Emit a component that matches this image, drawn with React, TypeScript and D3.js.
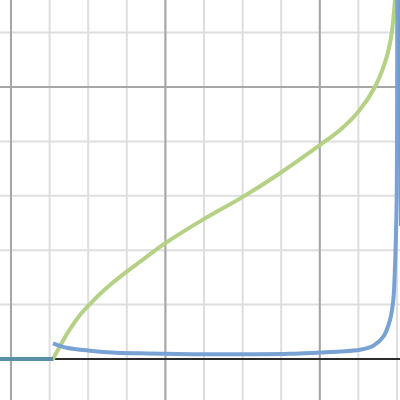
import React from "react";
import * as d3 from "d3";

const W = 400;
const H = 400;

// grid definitions (data units)
const xMinorTicks = [2, 2.5, 3, 3.5, 4, 4.5, 5, 5.5, 6, 6.5, 7];
const xMajorTicks = [2, 4, 6];
const yMinorTicks = [0.2, 0.4, 0.6, 0.8, 1.0, 1.2];
const yMajorTicks = [1.0];
const xAxisValue = [0];

const xDomain: [number, number] = [1.8575, 7.0389];
const yDomain: [number, number] = [-0.1507, 1.3199];

// green curve
const greenX = [2.544, 2.635, 2.764, 2.894, 3.023, 3.153, 3.282, 3.499, 3.649, 3.995, 4.513, 5.009, 5.484, 6.003, 6.262, 6.499, 6.715, 6.867, 6.931, 6.974, 6.994];
const greenY = [0, 0.048, 0.11, 0.162, 0.202, 0.239, 0.272, 0.321, 0.353, 0.425, 0.517, 0.597, 0.683, 0.787, 0.842, 0.909, 1.001, 1.111, 1.197, 1.32, 1.393];

// blue curve: flat part, main branch, right branch
const blueFlatX = [1.8, 2.544];
const blueFlatY = [0, 0];
const blueX = [2.544, 2.7215, 3.023, 3.369, 3.671, 3.969, 4.617, 5.096, 5.614, 6.003, 6.262, 6.521, 6.693, 6.823, 6.909, 6.952, 6.974, 6.987, 6.996, 7.0, 7.004];
const blueY = [0.0577, 0.0415, 0.0305, 0.0232, 0.021, 0.019, 0.0173, 0.0173, 0.019, 0.024, 0.0276, 0.034, 0.049, 0.082, 0.143, 0.217, 0.339, 0.463, 0.585, 0.768, 1.36];
const blueRightX = [7.0285, 7.0454];
const blueRightY = [1.357, 0.489];

export default function App() {
  const x = d3.scaleLinear().domain(xDomain).range([0, W]);
  const y = d3.scaleLinear().domain(yDomain).range([H, 0]);

  const line = d3
    .line<[number, number]>()
    .x((d) => x(d[0]))
    .y((d) => y(d[1]))
    .curve(d3.curveCatmullRom.alpha(0.5));
  const straight = d3
    .line<[number, number]>()
    .x((d) => x(d[0]))
    .y((d) => y(d[1]));

  const zip = (a: number[], b: number[]) => a.map((v, i) => [v, b[i]] as [number, number]);

  return (
    <svg
      width={W}
      height={H}
      style={{ position: "fixed", top: 0, left: 0, background: "#fff" }}
    >
      <rect width={W} height={H} fill="#fff" />
      <g>
        {xMinorTicks.map((t) => (
          <line key={"xm" + t} x1={x(t)} x2={x(t)} y1={0} y2={H} stroke="#dedede" strokeWidth={2} />
        ))}
        {yMinorTicks.map((t) => (
          <line key={"ym" + t} x1={0} x2={W} y1={y(t)} y2={y(t)} stroke="#dedede" strokeWidth={2} />
        ))}
        {xMajorTicks.map((t) => (
          <line key={"xM" + t} x1={x(t)} x2={x(t)} y1={0} y2={H} stroke="#a6a6a6" strokeWidth={2} />
        ))}
        {yMajorTicks.map((t) => (
          <line key={"yM" + t} x1={0} x2={W} y1={y(t)} y2={y(t)} stroke="#a6a6a6" strokeWidth={2} />
        ))}
        {xAxisValue.map((t) => (
          <line key={"ax" + t} x1={0} x2={W} y1={y(t)} y2={y(t)} stroke="#2b2b2b" strokeWidth={2} />
        ))}
      </g>
      <path d={line(zip(greenX, greenY)) || ""} fill="none" stroke="#b5d185" strokeWidth={4} strokeLinecap="round" />
      <path d={line(zip(blueX, blueY)) || ""} fill="none" stroke="#78a2d4" strokeWidth={4} strokeLinecap="butt" strokeLinejoin="round" />
      <path d={straight(zip(blueRightX, blueRightY)) || ""} fill="none" stroke="#6f9bd0" strokeWidth={3} />
      <path d={straight(zip(blueFlatX, blueFlatY)) || ""} fill="none" stroke="#5b8fa7" strokeWidth={4} />
    </svg>
  );
}
